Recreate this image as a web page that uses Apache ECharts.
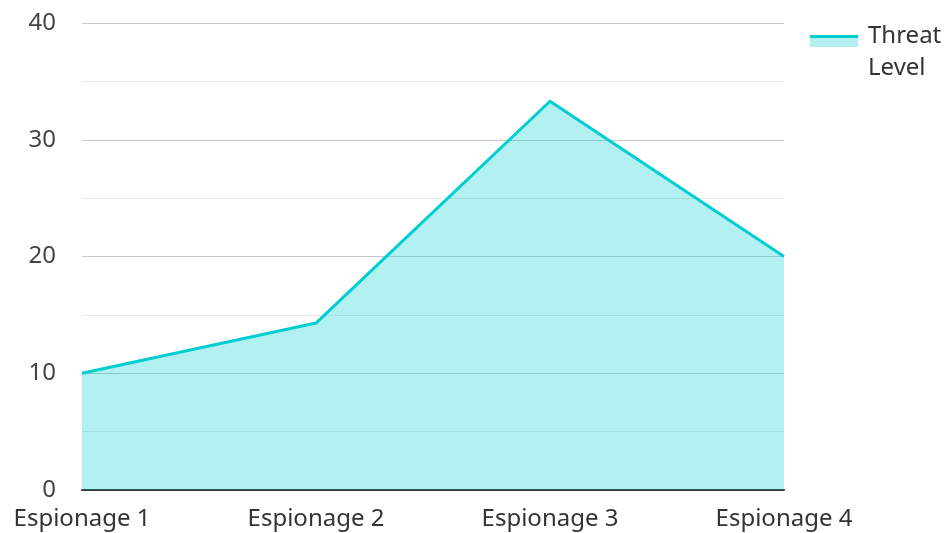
<!DOCTYPE html>
<html><head><meta charset="utf-8">
<script src="https://cdn.jsdelivr.net/npm/echarts@6/dist/echarts.min.js"></script>
<style>html,body{margin:0;padding:0;background:#fff}#c{width:949px;height:533px}</style>
</head><body><div id="c"></div>
<script>
const categories = ['Espionage 1', 'Espionage 2', 'Espionage 3', 'Espionage 4'];
const threatLevel = [10, 14.3, 33.3, 20];
const seriesName = 'Threat Level';
const yTicks = [0, 10, 20, 30, 40];

const chart = echarts.init(document.getElementById('c'));
const font = '"Noto Sans", "Open Sans", sans-serif';
chart.setOption({
  animation: false,
  textStyle: { fontFamily: font },
  grid: { left: 82, right: 165, top: 23, bottom: 43, containLabel: false },
  legend: { show: false, data: [seriesName] },
  graphic: [
    { type: 'rect', z: 100, shape: { x: 810, y: 35, width: 48, height: 12 }, style: { fill: '#b2f0f1' } },
    { type: 'line', z: 101, shape: { x1: 810, y1: 36.5, x2: 858, y2: 36.5 }, style: { stroke: '#00ced1', lineWidth: 3 } },
    { type: 'text', z: 101, left: 868, top: 20, style: { text: 'Threat\nLevel', font: '24px ' + font, fill: '#333', lineHeight: 32 } }
  ],
  xAxis: {
    type: 'category',
    data: categories,
    boundaryGap: false,
    axisLine: { show: true, lineStyle: { color: '#333', width: 2 } },
    axisTick: { show: false },
    axisLabel: { fontSize: 24, color: '#333', margin: 17, fontFamily: font },
    splitLine: { show: false }
  },
  yAxis: {
    type: 'value',
    min: yTicks[0], max: yTicks[yTicks.length - 1], interval: 10,
    axisLine: { show: false },
    axisTick: { show: false },
    axisLabel: { fontSize: 24, color: '#444', margin: 26, fontFamily: font },
    splitLine: { show: true, lineStyle: { color: '#c8c8c8', width: 1 } },
    minorTick: { show: false, splitNumber: 2 },
    minorSplitLine: { show: true, lineStyle: { color: '#e6e6e6', width: 1 } }
  },
  series: [{
    name: seriesName,
    type: 'line',
    data: threatLevel,
    symbol: 'none',
    lineStyle: { color: '#00ced1', width: 3 },
    itemStyle: { color: '#00ced1' },
    areaStyle: { color: '#00ced1', opacity: 0.3 },
    z: 2
  }]
});
</script></body></html>
